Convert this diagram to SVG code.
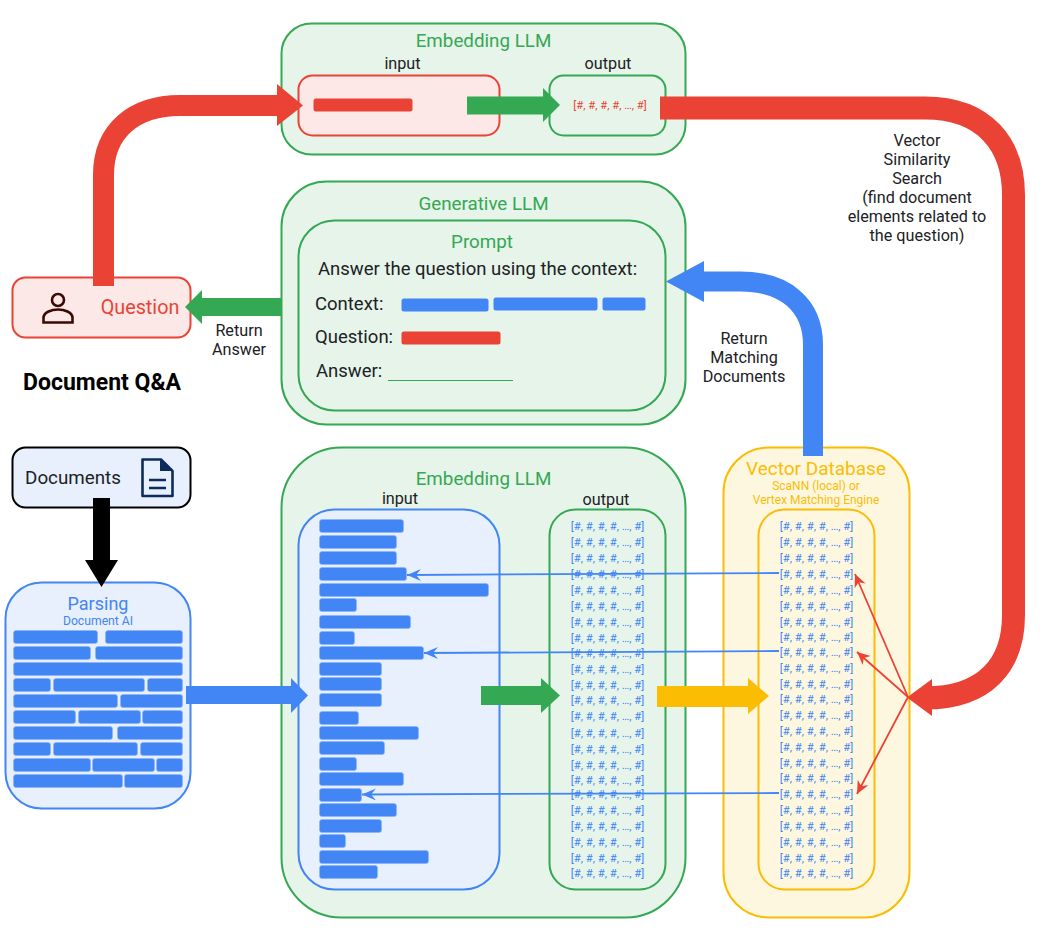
<svg xmlns="http://www.w3.org/2000/svg" width="1048" height="931" viewBox="0 0 1048 931">
<style>
text{font-family:"Roboto","Liberation Sans",sans-serif;text-anchor:middle;fill:#000}
.k{font-size:16.200px;fill:#202124}
.g{font-size:18.800px;fill:#34a853}
.v{font-size:11.300px;fill:#4285f4}
.gb{fill:#e6f4ea;stroke:#34a853;stroke-width:2}
.bb{fill:#e8f0fe;stroke:#4285f4;stroke-width:2}
.rb{fill:#fce8e6;stroke:#ea4335;stroke-width:2}
.yb{fill:#fef7e0;stroke:#fbbc04;stroke-width:2}
.b{fill:#4285f4;stroke:#8ab4f8;stroke-width:.6}
.p{font-size:18.500px;fill:#202124;text-anchor:start}
</style>
<defs>
<marker id="ob" markerUnits="userSpaceOnUse" markerWidth="16" markerHeight="14" refX="15" refY="6" orient="auto"><path d="M1 0L15 6L1 12L6 6Z" fill="#4285f4"/></marker>
<marker id="or" markerUnits="userSpaceOnUse" markerWidth="16" markerHeight="14" refX="15" refY="6" orient="auto"><path d="M2 0L15 6L2 12L6 6Z" fill="#ea4335"/></marker>
</defs>

<g id="embedding-top">
<rect class="gb" x="281.500" y="23.500" width="404" height="131" rx="30"/>
<text class="g" x="483.500" y="47">Embedding LLM</text>
<text class="k" x="402.500" y="69">input</text>
<text class="k" x="608" y="69">output</text>
<rect class="rb" x="298.500" y="75.500" width="201" height="60" rx="14"/>
<rect x="313.500" y="98.500" width="99" height="13" rx="2.500" fill="#ea4335"/>
<rect class="gb" x="549.500" y="75.500" width="116" height="60" rx="14"/>
<text x="610" y="109" font-size="11.300" style="fill:#ea4335">[#, #, #, #, …, #]</text>
</g>

<g id="generative">
<rect class="gb" x="281.500" y="181.500" width="404" height="243" rx="45"/>
<text class="g" x="483.500" y="210">Generative LLM</text>
<rect class="gb" x="298.500" y="220.500" width="367" height="190" rx="36"/>
<text class="g" x="482" y="248">Prompt</text>
<text class="p" x="318" y="275">Answer the question using the context:</text>
<text class="p" x="315" y="310">Context:</text>
<text class="p" x="315" y="343">Question:</text>
<text class="p" x="316" y="377">Answer:</text>
<path d="M388 380.500H513" stroke="#34a853" stroke-width="1.200"/>
<rect x="401.500" y="298.500" width="87" height="13" rx="2.500" fill="#4285f4"/>
<rect x="493.500" y="297.500" width="104" height="13" rx="2.500" fill="#4285f4"/>
<rect x="602.500" y="297.500" width="43" height="13" rx="2.500" fill="#4285f4"/>
<rect x="401.500" y="331.500" width="99" height="13" rx="2.500" fill="#ea4335"/>
</g>

<g id="question">
<rect class="rb" x="12.500" y="277.500" width="178" height="60" rx="13"/>
<text x="140" y="314" font-size="19.800" style="fill:#ea4335">Question</text>
<circle cx="58" cy="300" r="6" fill="none" stroke="#3c0a06" stroke-width="2.600"/>
<path d="M43.500 322.500V318C43.500 312 52 309.500 58 309.500S72.500 312 72.500 318V322.500Z" fill="none" stroke="#3c0a06" stroke-width="2.600"/>
</g>

<text id="title" x="102" y="390" font-size="23" font-weight="700">Document Q&amp;A</text>

<g id="documents">
<rect class="bb" x="12.500" y="447.500" width="178" height="60" rx="13" style="stroke:#000"/>
<text x="73" y="484" font-size="18.800" style="fill:#202124">Documents</text>
<path d="M142.500 459.500H161L172.500 471V496H142.500Z" fill="none" stroke="#0d2c5e" stroke-width="2.600" stroke-linejoin="round"/>
<path d="M160 459.500V471H172.500Z" fill="#0d2c5e"/>
<path d="M149 480H166M149 488H166" stroke="#0d2c5e" stroke-width="2.400"/>
</g>

<g id="parsing">
<rect class="bb" x="5.500" y="582.500" width="185" height="226" rx="36"/>
<text x="98" y="610" font-size="18" style="fill:#4285f4">Parsing</text>
<text x="98" y="625" font-size="12.200" style="fill:#4285f4">Document AI</text>
<rect class="b" x="13.500" y="630.500" width="84" height="13" rx="2.500"/><rect class="b" x="105.500" y="630.500" width="77" height="13" rx="2.500"/>
<rect class="b" x="13.500" y="646.500" width="77" height="13" rx="2.500"/><rect class="b" x="95.500" y="646.500" width="87" height="13" rx="2.500"/>
<rect class="b" x="13.500" y="662.500" width="169" height="13" rx="2.500"/>
<rect class="b" x="13.500" y="678.500" width="37" height="13" rx="2.500"/><rect class="b" x="53.500" y="678.500" width="91" height="13" rx="2.500"/><rect class="b" x="147.500" y="678.500" width="35" height="13" rx="2.500"/>
<rect class="b" x="13.500" y="694.500" width="104" height="13" rx="2.500"/><rect class="b" x="120.500" y="694.500" width="62" height="13" rx="2.500"/>
<rect class="b" x="13.500" y="710.500" width="62" height="13" rx="2.500"/><rect class="b" x="78.500" y="710.500" width="62" height="13" rx="2.500"/><rect class="b" x="142.500" y="710.500" width="40" height="13" rx="2.500"/>
<rect class="b" x="13.500" y="726.500" width="99" height="13" rx="2.500"/><rect class="b" x="117.500" y="726.500" width="65" height="13" rx="2.500"/>
<rect class="b" x="13.500" y="742.500" width="37" height="13" rx="2.500"/><rect class="b" x="53.500" y="742.500" width="84" height="13" rx="2.500"/><rect class="b" x="140.500" y="742.500" width="42" height="13" rx="2.500"/>
<rect class="b" x="13.500" y="758.500" width="77" height="13" rx="2.500"/><rect class="b" x="92.500" y="758.500" width="62" height="13" rx="2.500"/><rect class="b" x="156.500" y="758.500" width="26" height="13" rx="2.500"/>
<rect class="b" x="13.500" y="774.500" width="109" height="13" rx="2.500"/><rect class="b" x="124.500" y="774.500" width="58" height="13" rx="2.500"/>
</g>

<g id="embedding-bottom">
<rect class="gb" x="281.500" y="447.500" width="404" height="470" rx="60"/>
<text class="g" x="483.500" y="485">Embedding LLM</text>
<text class="k" x="400" y="504">input</text>
<text class="k" x="606" y="505">output</text>
<rect class="bb" x="298.500" y="509.500" width="201" height="380" rx="36"/>
<rect class="gb" x="549.500" y="509.500" width="116" height="380" rx="26"/>
<g id="input-bars">
<rect class="b" x="319.500" y="519.500" width="84" height="13" rx="2.500"/>
<rect class="b" x="319.500" y="535.500" width="77" height="13" rx="2.500"/>
<rect class="b" x="319.500" y="551.500" width="77" height="13" rx="2.500"/>
<rect class="b" x="319.500" y="567.500" width="87" height="13" rx="2.500"/>
<rect class="b" x="319.500" y="583.500" width="169" height="13" rx="2.500"/>
<rect class="b" x="319.500" y="598.500" width="37" height="13" rx="2.500"/>
<rect class="b" x="319.500" y="615.500" width="91" height="13" rx="2.500"/>
<rect class="b" x="319.500" y="631.500" width="35" height="13" rx="2.500"/>
<rect class="b" x="319.500" y="646.500" width="104" height="13" rx="2.500"/>
<rect class="b" x="319.500" y="662.500" width="62" height="13" rx="2.500"/>
<rect class="b" x="319.500" y="677.500" width="62" height="13" rx="2.500"/>
<rect class="b" x="319.500" y="693.500" width="62" height="13" rx="2.500"/>
<rect class="b" x="319.500" y="711.500" width="39" height="13" rx="2.500"/>
<rect class="b" x="319.500" y="726.500" width="99" height="13" rx="2.500"/>
<rect class="b" x="319.500" y="741.500" width="65" height="13" rx="2.500"/>
<rect class="b" x="319.500" y="757.500" width="37" height="13" rx="2.500"/>
<rect class="b" x="319.500" y="772.500" width="84" height="13" rx="2.500"/>
<rect class="b" x="319.500" y="788.500" width="42" height="13" rx="2.500"/>
<rect class="b" x="319.500" y="803.500" width="77" height="13" rx="2.500"/>
<rect class="b" x="319.500" y="819.500" width="62" height="13" rx="2.500"/>
<rect class="b" x="319.500" y="834.500" width="26" height="13" rx="2.500"/>
<rect class="b" x="319.500" y="850.500" width="109" height="13" rx="2.500"/>
<rect class="b" x="319.500" y="865.500" width="58" height="13" rx="2.500"/>
</g>
<g id="output-vectors">
<text class="v" x="607.500" y="530">[#, #, #, #, …, #]</text>
<text class="v" x="607.500" y="546">[#, #, #, #, …, #]</text>
<text class="v" x="607.500" y="562">[#, #, #, #, …, #]</text>
<text class="v" x="607.500" y="578">[#, #, #, #, …, #]</text>
<text class="v" x="607.500" y="594">[#, #, #, #, …, #]</text>
<text class="v" x="607.500" y="610">[#, #, #, #, …, #]</text>
<text class="v" x="607.500" y="626">[#, #, #, #, …, #]</text>
<text class="v" x="607.500" y="642">[#, #, #, #, …, #]</text>
<text class="v" x="607.500" y="657">[#, #, #, #, …, #]</text>
<text class="v" x="607.500" y="673">[#, #, #, #, …, #]</text>
<text class="v" x="607.500" y="689">[#, #, #, #, …, #]</text>
<text class="v" x="607.500" y="704">[#, #, #, #, …, #]</text>
<text class="v" x="607.500" y="720">[#, #, #, #, …, #]</text>
<text class="v" x="607.500" y="737">[#, #, #, #, …, #]</text>
<text class="v" x="607.500" y="753">[#, #, #, #, …, #]</text>
<text class="v" x="607.500" y="769">[#, #, #, #, …, #]</text>
<text class="v" x="607.500" y="784">[#, #, #, #, …, #]</text>
<text class="v" x="607.500" y="798">[#, #, #, #, …, #]</text>
<text class="v" x="607.500" y="814">[#, #, #, #, …, #]</text>
<text class="v" x="607.500" y="830">[#, #, #, #, …, #]</text>
<text class="v" x="607.500" y="846">[#, #, #, #, …, #]</text>
<text class="v" x="607.500" y="862">[#, #, #, #, …, #]</text>
<text class="v" x="607.500" y="877">[#, #, #, #, …, #]</text>
</g>
</g>

<g id="vector-database">
<rect class="yb" x="723.500" y="447.500" width="186" height="470" rx="45"/>
<text x="816" y="475" font-size="19" style="fill:#fbbc04">Vector Database</text>
<text x="816" y="490" font-size="12" style="fill:#fbbc04">ScaNN (local) or</text>
<text x="816" y="504" font-size="12" style="fill:#fbbc04">Vertex Matching Engine</text>
<rect class="yb" x="758.500" y="509.500" width="116" height="380" rx="26"/>
<g id="db-vectors">
<text class="v" x="816.500" y="530">[#, #, #, #, …, #]</text>
<text class="v" x="816.500" y="546">[#, #, #, #, …, #]</text>
<text class="v" x="816.500" y="562">[#, #, #, #, …, #]</text>
<text class="v" x="816.500" y="578">[#, #, #, #, …, #]</text>
<text class="v" x="816.500" y="594">[#, #, #, #, …, #]</text>
<text class="v" x="816.500" y="610">[#, #, #, #, …, #]</text>
<text class="v" x="816.500" y="626">[#, #, #, #, …, #]</text>
<text class="v" x="816.500" y="641">[#, #, #, #, …, #]</text>
<text class="v" x="816.500" y="656">[#, #, #, #, …, #]</text>
<text class="v" x="816.500" y="672">[#, #, #, #, …, #]</text>
<text class="v" x="816.500" y="688">[#, #, #, #, …, #]</text>
<text class="v" x="816.500" y="703">[#, #, #, #, …, #]</text>
<text class="v" x="816.500" y="719">[#, #, #, #, …, #]</text>
<text class="v" x="816.500" y="735">[#, #, #, #, …, #]</text>
<text class="v" x="816.500" y="751">[#, #, #, #, …, #]</text>
<text class="v" x="816.500" y="767">[#, #, #, #, …, #]</text>
<text class="v" x="816.500" y="782">[#, #, #, #, …, #]</text>
<text class="v" x="816.500" y="798">[#, #, #, #, …, #]</text>
<text class="v" x="816.500" y="814">[#, #, #, #, …, #]</text>
<text class="v" x="816.500" y="830">[#, #, #, #, …, #]</text>
<text class="v" x="816.500" y="846">[#, #, #, #, …, #]</text>
<text class="v" x="816.500" y="862">[#, #, #, #, …, #]</text>
<text class="v" x="816.500" y="877">[#, #, #, #, …, #]</text>
</g>
</g>

<g id="connectors" fill="none">
<path d="M103.500 286V175C103.500 130 135 105.500 180 105.500H280" stroke="#ea4335" stroke-width="21"/>
<path d="M277 84L303 105.500L277 126Z" fill="#ea4335"/>
<path d="M660 108H925C985 108 1013.500 145 1013.500 195V615C1013.500 665 985 698 925 698" stroke="#ea4335" stroke-width="23"/>
<path d="M932 679L907 697.500L932 716Z" fill="#ea4335"/>
<path d="M813 456V345C813 305 785 281.500 740 281.500H700" stroke="#4285f4" stroke-width="20"/>
<path d="M704 261L666 281.500L704 302Z" fill="#4285f4"/>
<path d="M467 96.500H543V88L560 105L543 122V114.500H467Z" fill="#34a853"/>
<path d="M281 298H202V290L185 307L202 324V316H281Z" fill="#34a853"/>
<path d="M93 498H110V560H118L101.500 587L85 560H93Z" fill="#000"/>
<path d="M186 686H291V678L308 695.500L291 713V704H186Z" fill="#4285f4"/>
<path d="M481 686H541V678L560 695.500L541 713V705H481Z" fill="#34a853"/>
<path d="M657 686H748V678L769 696L748 714V707H657Z" fill="#fbbc04"/>
<path d="M779 573L407 575" stroke="#4285f4" stroke-width="1.800" marker-end="url(#ob)"/>
<path d="M779 651L424 653" stroke="#4285f4" stroke-width="1.800" marker-end="url(#ob)"/>
<path d="M779 793L362 794.500" stroke="#4285f4" stroke-width="1.800" marker-end="url(#ob)"/>
<path d="M908 697L855 574" stroke="#ea4335" stroke-width="1.800" marker-end="url(#or)"/>
<path d="M908 697L857 652" stroke="#ea4335" stroke-width="1.800" marker-end="url(#or)"/>
<path d="M908 697L857 794" stroke="#ea4335" stroke-width="1.800" marker-end="url(#or)"/>
</g>

<g id="labels">
<text class="k" x="917" y="146">Vector</text>
<text class="k" x="917" y="165">Similarity</text>
<text class="k" x="917" y="184">Search</text>
<text class="k" x="917" y="203">(find document</text>
<text class="k" x="917" y="222">elements related to</text>
<text class="k" x="917" y="241">the question)</text>
<text class="k" x="744" y="344">Return</text>
<text class="k" x="744" y="363">Matching</text>
<text class="k" x="744" y="382">Documents</text>
<text class="k" x="239" y="336">Return</text>
<text class="k" x="239" y="355">Answer</text>
</g>
</svg>
